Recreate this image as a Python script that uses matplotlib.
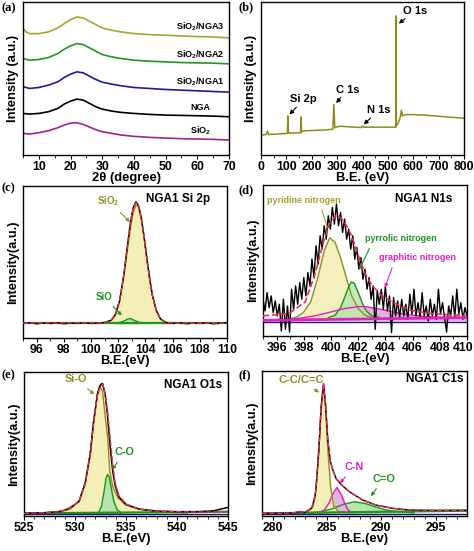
import numpy as np
import matplotlib
matplotlib.use('Agg')
import matplotlib.pyplot as plt
import matplotlib.transforms as mtransforms

plt.rcParams['font.family'] = ['Liberation Sans', 'DejaVu Sans']
plt.rcParams['font.weight'] = 'bold'
plt.rcParams['mathtext.fontset'] = 'custom'
plt.rcParams['mathtext.rm'] = 'Liberation Sans:bold'
plt.rcParams['mathtext.bf'] = 'Liberation Sans:bold'
plt.rcParams['mathtext.default'] = 'bf'

# ---------- (a) XRD ----------
xrd_x = [5, 6, 7, 10, 13, 16, 18, 20, 22, 24, 26, 28, 30, 33, 36, 40, 45, 50, 55, 60, 65, 70]
xrd_sio2 = [65, 64, 63, 67, 73, 82, 90, 96, 97, 92, 84, 76, 70, 65, 60, 56, 53, 51, 49, 48, 47, 45]
xrd_nga = [125, 124, 123, 125, 130, 140, 153, 162, 168, 165, 155, 145, 138, 132, 128, 125, 122, 120, 119, 118, 117, 115]
xrd_nga1 = [205, 203, 200, 203, 210, 220, 233, 243, 250, 247, 237, 227, 219, 213, 208, 203, 200, 197, 195, 193, 191, 189]
xrd_nga2 = [290, 288, 285, 287, 293, 305, 318, 328, 335, 332, 322, 312, 302, 295, 290, 285, 282, 280, 278, 277, 276, 274]
xrd_nga3 = [380, 370, 365, 365, 370, 382, 395, 407, 415, 412, 402, 392, 382, 375, 370, 365, 362, 360, 358, 356, 355, 352]
xrd_names = ['SiO$_2$', 'NGA', 'SiO$_2$/NGA1', 'SiO$_2$/NGA2', 'SiO$_2$/NGA3']
xrd_colors = ['#a3208f', 'black', '#1c1c9a', '#1f9a1f', '#a6a630']
xrd_label_y = [72, 143, 220, 302, 385]

# ---------- (b) survey ----------
sv_be = [0, 20, 26, 30, 60, 100, 104, 106, 108, 150, 156, 158, 160, 170, 200, 260, 283, 287, 291, 300,
         310, 350, 395, 400, 405, 450, 520, 531, 532, 533, 540, 545, 550, 553, 558, 570, 600, 650, 700, 750, 800]
sv_int = [60, 62, 72, 62, 63, 65, 66, 118, 66, 67, 67, 115, 70, 73, 74, 76, 78, 153, 82, 85,
          87, 85, 83, 88, 84, 84, 84, 84, 420, 88, 95, 105, 118, 135, 118, 122, 122, 120, 117, 114, 111]

# ---------- (c) Si 2p ----------
c_fit_x = [95, 101, 101.5, 101.8, 102.1, 102.4, 102.7, 102.9, 103.1, 103.3, 103.5, 103.7, 103.9,
           104.1, 104.3, 104.5, 104.8, 105.1, 105.5, 106, 110]
c_fit_y = [45, 46, 55, 73, 114, 189, 288, 350, 393, 411, 398, 362, 305, 242, 182, 131, 83, 58, 47, 45, 45]
c_raw_x = [95, 95.5, 96, 96.5, 97, 97.5, 98, 98.5, 99, 99.5, 100, 100.5, 101, 101.5, 101.8, 102.1, 102.4,
           102.7, 102.9, 103.1, 103.3, 103.5, 103.7, 103.9, 104.1, 104.3, 104.5, 104.8, 105.1, 105.5,
           106, 106.5, 107, 107.5, 108, 108.5, 109, 109.5, 110]
c_raw_y = [44, 46, 43, 45, 44, 46, 43, 45, 44, 46, 44, 45, 47, 54, 71, 112, 187, 286, 349, 394, 413,
           400, 363, 306, 243, 183, 132, 84, 58, 47, 44, 46, 43, 45, 44, 46, 43, 45, 47]
c_sio2_x = [100.5, 101, 101.5, 101.8, 102.1, 102.4, 102.7, 102.9, 103.1, 103.3, 103.5, 103.7, 103.9,
            104.1, 104.3, 104.5, 104.8, 105.1, 105.5, 106]
c_sio2_y = [45, 46, 54, 72, 111, 181, 273, 333, 380, 402, 396, 362, 306, 243, 183, 131, 83, 58, 47, 45]
c_sio_x = [101.8, 102.2, 102.5, 102.7, 102.85, 103.0, 103.2, 103.5, 103.9]
c_sio_y = [45, 48, 53, 57, 59, 57, 53, 48, 45]

# ---------- (d) N1s ----------
d_raw = [110, 75, 130, 85, 120, 70, 105, 60, 95, 15, 110, 20, 90, 12, 140, 80, 150, 95, 160, 110,
         175, 120, 190, 150, 230, 175, 270, 215, 300, 260, 330, 290, 360, 320, 385, 335, 395, 330, 370, 310,
         350, 290, 320, 260, 300, 230, 265, 200, 235, 170, 200, 140, 175, 110, 150, 20, 135, 95, 140, 80,
         150, 75, 120, 10, 115, 60, 105, 55, 110, 60, 95, 50, 125, 65, 140, 60, 100, 55, 130, 60,
         90, 45, 110, 60, 95, 50, 140, 65, 100, 55, 12, 90, 60, 120, 55, 140, 65, 100, 50, 85, 60]
d_fit_x = [395, 395.4, 396.9, 398.1, 398.8, 399.45, 399.9, 400.4, 400.9, 401.5, 402.0, 402.5, 403.0,
           403.7, 404.7, 405.9, 407.4, 410]
d_fit_y = [60, 62, 67, 102, 182, 282, 337, 362, 347, 302, 242, 187, 152, 122, 97, 77, 67, 60]
d_pyd_x = [396, 397, 397.5, 398, 398.5, 399, 399.5, 399.9, 400.3, 400.7, 401, 401.5, 402, 402.5, 403, 404]
d_pyd_y = [49, 52, 57, 72, 102, 170, 255, 294, 280, 235, 192, 122, 82, 62, 55, 52]
d_pyr_x = [399.8, 400.3, 400.7, 401.0, 401.3, 401.5, 401.7, 402.0, 402.3, 402.6, 403.0, 403.5]
d_pyr_y = [55, 62, 85, 115, 148, 162, 158, 130, 98, 75, 60, 56]
d_gra_x = [395, 397, 398, 399, 400, 401, 402, 402.5, 403, 404, 405, 406, 407, 408, 410]
d_gra_y = [47, 50, 55, 62, 72, 82, 88, 88, 85, 77, 68, 62, 58, 56, 55]
d_base_x = [395, 410]
d_base_y = [47, 55]

# ---------- (e) O1s ----------
e_raw_x = [525, 527, 528.5, 529.5, 530.4, 531, 531.5, 531.8, 532.2, 532.5, 532.7, 532.95, 533.2,
           533.45, 533.7, 533.95, 534.3, 535, 536.3, 538, 540, 542, 543.5, 544.3, 545]
e_raw_y = [8, 10, 13, 22, 45, 100, 190, 280, 370, 398, 401, 370, 300, 210, 135, 90, 58, 35, 21, 15,
           13, 13, 15, 21, 26]
e_fit_y = [8, 10, 13, 22, 45, 98, 188, 278, 366, 394, 398, 372, 315, 235, 155, 98, 62, 36, 21, 15,
           13, 12, 12, 13, 13]
e_sio_x = [526, 528, 529, 530.4, 531, 531.5, 531.8, 532.2, 532.4, 532.7, 532.9, 533.2, 533.4, 533.7,
           534.2, 535, 536.3, 538.3, 541]
e_sio_y = [8, 12, 18, 43, 98, 188, 278, 368, 393, 378, 318, 238, 140, 88, 55, 33, 20, 13, 9]
e_co_x = [532.3, 532.6, 532.85, 533.05, 533.2, 533.35, 533.55, 533.8, 534.1, 534.5]
e_co_y = [10, 30, 75, 115, 126, 118, 85, 45, 20, 10]

# ---------- (f) C1s ----------
f_raw_x = [279, 281, 282.0, 282.6, 282.9, 283.3, 283.6, 283.9, 284.0, 284.25, 284.45, 284.67, 284.85,
           285.07, 285.3, 285.5, 285.85, 286.3, 287.07, 288.3, 289.5, 291.07, 292.6, 295, 298]
f_raw_y = [8, 8, 10, 14, 10, 18, 25, 60, 92, 205, 330, 400, 340, 230, 165, 142, 112, 95, 73, 48,
           33, 23, 18, 17, 17]
f_cc_x = [282.5, 283.2, 283.7, 284.0, 284.25, 284.45, 284.67, 284.85, 285.07, 285.32, 285.63, 286.1, 287]
f_cc_y = [10, 12, 28, 88, 200, 320, 393, 330, 200, 88, 28, 12, 10]
f_cn_x = [284.3, 284.8, 285.2, 285.5, 285.9, 286.3, 286.6, 286.9, 287.3]
f_cn_y = [10, 20, 40, 65, 86, 65, 40, 20, 10]
f_co_x = [283.5, 284.5, 285.5, 286.5, 287.5, 288.5, 289.5, 290.5, 291.5, 293]
f_co_y = [10, 13, 22, 35, 43, 38, 27, 18, 13, 10]

olive = '#8f8f22'
yellow = '#f3efb6'
green = '#1e951e'
lgreen = '#b5e4ae'
magenta = '#e020c0'
lmag = '#e6b0df'
red = '#ec2a55'
navy = '#1a1a80'

fig = plt.figure(figsize=(4.74, 5.51), dpi=100)


def style(ax, xlabel, ylabel='Intensity(a.u.)'):
    ax.set_yticks([])
    ax.tick_params(axis='x', direction='out', length=3, width=0.8, pad=1.0, labelsize=8.8)
    ax.tick_params(axis='x', which='minor', direction='out', length=1.8, width=0.6)
    for s in ax.spines.values():
        s.set_linewidth(1.0)
    ax.set_xlabel(xlabel, fontsize=9.3, fontweight='bold', labelpad=-0.5)
    ax.set_ylabel(ylabel, fontsize=9.3, fontweight='bold', labelpad=3)
    for t in ax.get_xticklabels():
        t.set_fontweight('bold')


def panel_letter(x, y, s):
    fig.text(x / 474, 1 - y / 551, s, family=['Liberation Serif', 'DejaVu Serif'],
             fontsize=9, fontweight='bold', ha='left', va='center')


# (a)
ax = fig.add_axes([23 / 474, 1 - 155 / 551, 206 / 474, 153 / 551])
for ys, col, name, ly in zip([xrd_sio2, xrd_nga, xrd_nga1, xrd_nga2, xrd_nga3], xrd_colors, xrd_names, xrd_label_y):
    ax.plot(xrd_x, ys, color=col, lw=1.2)
    ax.text(61, ly, name, fontsize=6.5, fontweight='bold', ha='center', va='center')
ax.set_xlim(5, 70)
ax.set_ylim(0, 460)
ax.set_xticks([10, 20, 30, 40, 50, 60, 70])
ax.set_xticks(np.arange(5, 71, 5), minor=True)
style(ax, '2θ (degree)', 'Intensity (a.u.)')
panel_letter(2, 8, '(a)')

# (b)
ax = fig.add_axes([261 / 474, 1 - 155 / 551, 203 / 474, 153 / 551])
ax.plot(sv_be, sv_int, color='#8c8c1a', lw=1.1)
ax.set_xlim(0, 800)
ax.set_ylim(0, 462)
ax.set_xticks(np.arange(0, 801, 100))
ax.set_xticks(np.arange(0, 801, 50), minor=True)
arw = dict(arrowstyle='-|>', color='black', lw=0.8, mutation_scale=6, shrinkA=0, shrinkB=0)
ax.annotate('O 1s', xy=(543, 397), xytext=(560, 435), fontsize=8, fontweight='bold',
            ha='left', va='center', arrowprops=arw)
ax.annotate('Si 2p', xy=(112, 122), xytext=(168, 168), fontsize=8, fontweight='bold',
            ha='center', va='center', arrowprops=arw)
ax.annotate('C 1s', xy=(296, 157), xytext=(342, 197), fontsize=8, fontweight='bold',
            ha='center', va='center', arrowprops=arw)
ax.annotate('N 1s', xy=(405, 92), xytext=(464, 135), fontsize=8, fontweight='bold',
            ha='center', va='center', arrowprops=arw)
style(ax, 'B.E. (eV)', 'Intensity (a.u.)')
panel_letter(239, 7, '(b)')

# (c)
ax = fig.add_axes([23 / 474, 1 - 338 / 551, 204 / 474, 152 / 551])
ax.fill_between(c_sio2_x, c_sio2_y, 45, color=yellow, zorder=1)
ax.plot(c_sio2_x, c_sio2_y, color=olive, lw=1.0, zorder=2)
ax.fill_between(c_sio_x, c_sio_y, 45, color=lgreen, zorder=1)
ax.plot(c_sio_x, c_sio_y, color=green, lw=1.0, zorder=2)
ax.plot(c_raw_x, c_raw_y, color='black', lw=1.0, zorder=3)
ax.plot(c_fit_x, c_fit_y, color=red, lw=1.0, ls='--', zorder=4)
ax.plot([95, 110], [45, 45], color=green, lw=1.6, zorder=2)
ax.annotate('SiO$_2$', xy=(103.0, 345), xytext=(101.3, 415), fontsize=7, color=olive,
            ha='center', va='center', arrowprops=dict(arrowstyle='-|>', color=olive, lw=0.8, mutation_scale=5))
ax.annotate('SiO', xy=(102.4, 62), xytext=(100.95, 125), fontsize=7, color=green,
            ha='center', va='center', arrowprops=dict(arrowstyle='-|>', color=green, lw=0.8, mutation_scale=5))
ax.text(106.4, 420, 'NGA1 Si 2p', fontsize=8.5, fontweight='bold', ha='center', va='center')
ax.set_xlim(95, 110)
ax.set_ylim(0, 460)
ax.set_xticks(np.arange(96, 111, 2))
ax.set_xticks(np.arange(95, 111, 1), minor=True)
style(ax, 'B.E.(eV)')
panel_letter(2, 188, '(c)')

# (d)
ax = fig.add_axes([263 / 474, 1 - 336 / 551, 204 / 474, 151 / 551])
ax.fill_between(d_gra_x, d_gra_y, 47, color=lmag, zorder=1)
ax.fill_between(d_pyd_x, d_pyd_y, 50, color=yellow, alpha=0.9, zorder=1)
ax.fill_between(d_pyr_x, d_pyr_y, 52, color=lgreen, alpha=0.8, zorder=1)
ax.plot(d_pyd_x, d_pyd_y, color=olive, lw=1.0, zorder=2)
ax.plot(d_pyr_x, d_pyr_y, color=green, lw=1.0, zorder=2)
ax.plot(d_gra_x, d_gra_y, color=magenta, lw=1.0, zorder=2)
ax.plot(np.linspace(395, 410, len(d_raw)), d_raw, color='black', lw=1.0, zorder=3)
ax.plot(d_fit_x, d_fit_y, color=red, lw=1.2, ls='--', zorder=4)
ax.plot(d_base_x, d_base_y, color=magenta, lw=2.0, zorder=4)
ax.plot([395, 410], [42, 42], color=navy, lw=1.0, zorder=2)
ax.annotate('pyridine nitrogen', xy=(399.8, 317), xytext=(395.3, 407), fontsize=6.5, color='#a3a32a',
            ha='left', va='center', arrowprops=dict(arrowstyle='-', color='#a3a32a', lw=0.8,
                                                    relpos=(0.72, 0.0)))
ax.annotate('pyrrolic nitrogen', xy=(402.0, 192), xytext=(402.5, 292), fontsize=6.5, color=green,
            ha='left', va='center', arrowprops=dict(arrowstyle='-|>', color=green, lw=0.8, mutation_scale=5,
                                                   relpos=(0.1, 0.0)))
ax.annotate('graphitic nitrogen', xy=(403.9, 137), xytext=(403.5, 234), fontsize=6.5, color=magenta,
            ha='left', va='center', arrowprops=dict(arrowstyle='-|>', color=magenta, lw=0.8, mutation_scale=5,
                                                   relpos=(0.2, 0.0)))
ax.text(406.85, 410, 'NGA1 N1s', fontsize=8.5, fontweight='bold', ha='center', va='center')
ax.set_xlim(395, 410)
ax.set_ylim(0, 452)
ax.set_xticks(np.arange(396, 411, 2))
ax.set_xticks(np.arange(395, 411, 1), minor=True)
style(ax, 'B.E.(eV)')
# last tick label sits at the figure edge, nudge it left a little
last = ax.get_xticklabels()[-1]
last.set_transform(last.get_transform() + mtransforms.ScaledTranslation(-4 / 100, 0, fig.dpi_scale_trans))
panel_letter(239, 190, '(d)')

# (e)
ax = fig.add_axes([24 / 474, 1 - 516 / 551, 204 / 474, 144 / 551])
ax.fill_between(e_sio_x, e_sio_y, 8, color=yellow, zorder=1)
ax.plot(e_sio_x, e_sio_y, color=olive, lw=1.0, zorder=2)
ax.fill_between(e_co_x, e_co_y, 8, color=lgreen, zorder=1)
ax.plot(e_co_x, e_co_y, color=green, lw=1.0, zorder=2)
ax.plot(e_raw_x, e_raw_y, color='black', lw=1.1, zorder=3)
ax.plot(e_raw_x, e_fit_y, color=red, lw=1.0, ls='--', zorder=4)
ax.plot([525, 545], [8, 13], color=green, lw=1.6, zorder=2)
ax.plot([525, 545], [5, 5], color=navy, lw=1.0, zorder=2)
ax.annotate('Si-O', xy=(532.1, 363), xytext=(530.1, 414), fontsize=7.8, color=olive,
            ha='center', va='center', arrowprops=dict(arrowstyle='-|>', color=olive, lw=0.8, mutation_scale=5))
ax.annotate('C-O', xy=(533.5, 133), xytext=(534.8, 193), fontsize=7.8, color=green,
            ha='center', va='center', arrowprops=dict(arrowstyle='-|>', color=green, lw=0.8, mutation_scale=5))
ax.text(541.6, 398, 'NGA1 O1s', fontsize=8.5, fontweight='bold', ha='center', va='center')
ax.set_xlim(525, 545)
ax.set_ylim(0, 436)
ax.set_xticks(np.arange(525, 546, 5))
ax.set_xticks(np.arange(525, 546, 1), minor=True)
style(ax, 'B.E.(eV)')
panel_letter(2, 375, '(e)')

# (f)
ax = fig.add_axes([262 / 474, 1 - 516 / 551, 205 / 474, 145 / 551])
ax.fill_between(f_co_x, f_co_y, 10, color=lgreen, zorder=1)
ax.fill_between(f_cn_x, f_cn_y, 10, color=lmag, zorder=1)
ax.fill_between(f_cc_x, f_cc_y, 10, color=yellow, zorder=1)
ax.plot(f_co_x, f_co_y, color=green, lw=1.0, zorder=2)
ax.plot(f_cn_x, f_cn_y, color=magenta, lw=1.0, zorder=2)
ax.plot(f_cc_x, f_cc_y, color=olive, lw=1.0, zorder=2)
ax.plot(f_raw_x, f_raw_y, color='black', lw=1.0, zorder=3)
ax.plot(f_raw_x, f_raw_y, color=red, lw=1.0, ls='--', zorder=4)
ax.plot([279, 298], [8, 16], color=green, lw=1.6, zorder=2)
ax.plot([279, 298], [5, 5], color=navy, lw=1.0, zorder=2)
ax.annotate('C-C/C=C', xy=(284.46, 368), xytext=(282.6, 412), fontsize=8, color=olive,
            ha='center', va='center', arrowprops=dict(arrowstyle='-|>', color=olive, lw=0.8, mutation_scale=5))
ax.annotate('C-N', xy=(286.0, 93), xytext=(287.5, 148), fontsize=7.8, color=magenta,
            ha='center', va='center', arrowprops=dict(arrowstyle='-|>', color=magenta, lw=0.8, mutation_scale=5))
ax.annotate('C=O', xy=(288.9, 53), xytext=(290.2, 113), fontsize=7.8, color=green,
            ha='center', va='center', arrowprops=dict(arrowstyle='-|>', color=green, lw=0.8, mutation_scale=5))
ax.text(294.9, 414, 'NGA1 C1s', fontsize=8.5, fontweight='bold', ha='center', va='center')
ax.set_xlim(279, 297.9)
ax.set_ylim(0, 438)
ax.set_xticks([280, 285, 290, 295])
ax.set_xticks(np.arange(279, 298, 1), minor=True)
style(ax, 'B.E.(ev)')
panel_letter(239, 375, '(f)')

fig.savefig('out.png', dpi=100)
